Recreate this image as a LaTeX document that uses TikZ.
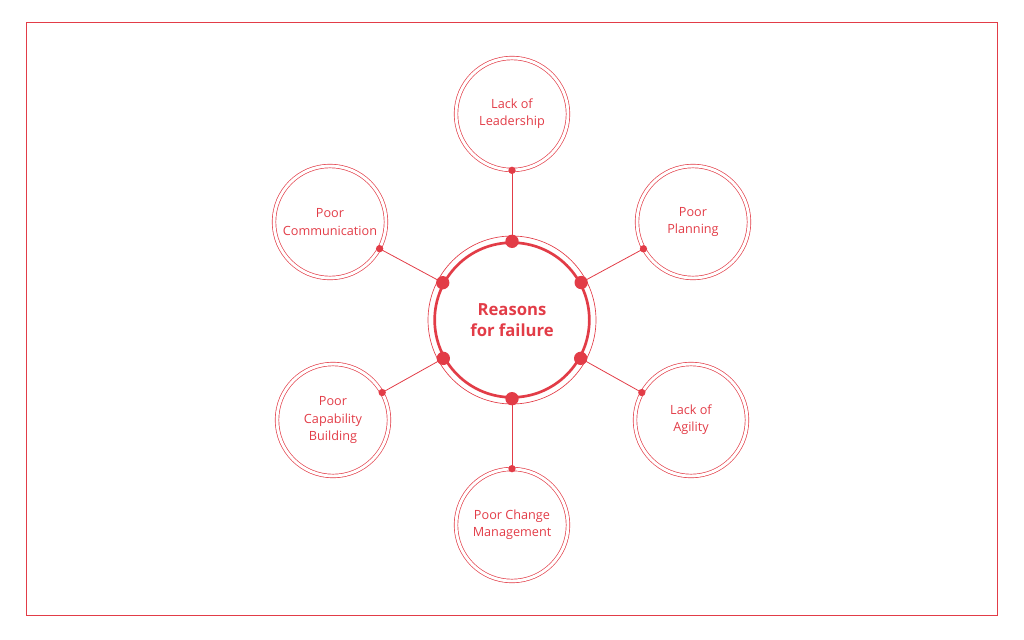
\documentclass[tikz,border=0pt]{standalone}
\usepackage{fontspec}
\setmainfont{Open Sans}
\definecolor{failred}{HTML}{E23C47}
\begin{document}
\begin{tikzpicture}[
    x=0.75pt, y=-0.75pt,
    cause/.style={circle, draw=failred, double=white, double distance=2.2pt, line width=0.5pt, minimum size=84pt, inner sep=0pt, align=center, text=failred, font=\fontsize{9.5}{13}\selectfont},
    hub/.style={circle, draw=failred, line width=2pt, minimum size=116pt, align=center, text=failred, font=\bfseries\fontsize{12.5}{16}\selectfont},
    link/.style={draw=failred, line width=0.6pt},
    bigdot/.style={circle, fill=failred, inner sep=0pt, minimum size=10pt},
    smalldot/.style={circle, fill=failred, inner sep=0pt, minimum size=5.5pt}
]
\useasboundingbox (0,0) rectangle (1024,639);
\draw[failred, line width=0.6pt] (26,22) rectangle (997,615);

\node[hub] (hub) at (512,320) {Reasons\\for failure};
\draw[failred, line width=0.5pt] (hub.center) circle (84);

\node[cause] (lead) at (512,114) {Lack of\\Leadership};
\node[cause] (plan) at (693,222) {Poor\\Planning};
\node[cause] (agil) at (691,420) {Lack of\\Agility};
\node[cause] (chng) at (512,525) {Poor Change\\Management};
\node[cause] (capb) at (333,420) {Poor\\Capability\\Building};
\node[cause] (comm) at (330,222) {Poor\\Communication};

% spokes
\foreach \c in {lead,plan,agil,chng,capb,comm}
  \draw[link] (hub) -- node[pos=0, bigdot]{} node[pos=1, smalldot]{} (\c);

\end{tikzpicture}
\end{document}
